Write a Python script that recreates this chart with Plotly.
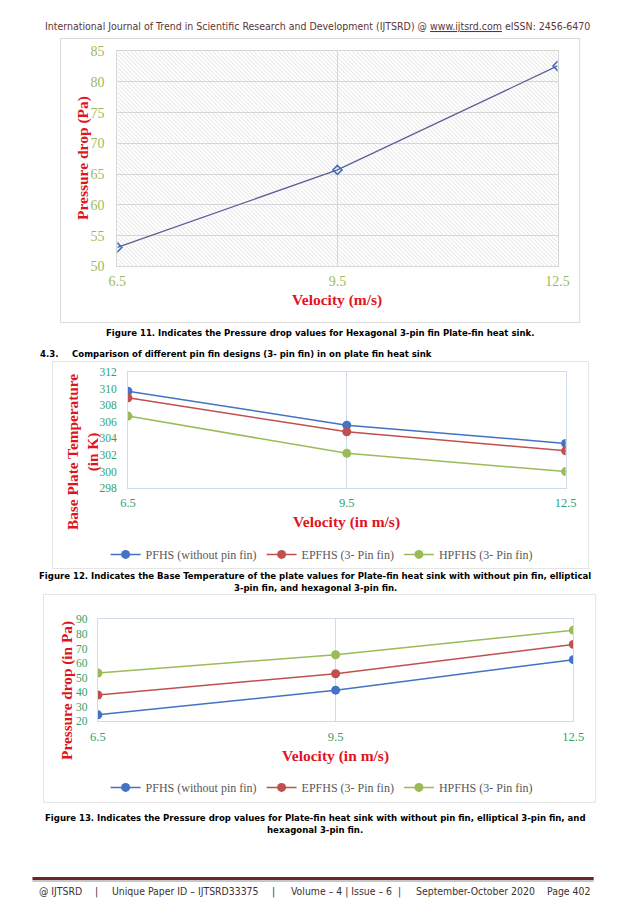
import base64
import plotly.graph_objects as go

# ---------------- data ----------------
velocity = [6.5, 9.5, 12.5]
velocity_labels = ["6.5", "9.5", "12.5"]

# Figure 11: hexagonal 3-pin fin pressure drop (Pa)
hex_pressure_drop = [53.1, 65.7, 82.6]

# Figure 12: base plate temperature (K)
temp_pfhs = [309.7, 305.6, 303.4]
temp_epfhs = [308.9, 304.8, 302.5]
temp_hpfhs = [306.7, 302.2, 300.0]

# Figure 13: pressure drop (Pa)
dp_pfhs = [24.3, 41.3, 62.3]
dp_epfhs = [38.0, 52.6, 72.8]
dp_hpfhs = [53.1, 65.7, 82.6]

series_names = ["PFHS (without pin fin)", "EPFHS (3- Pin fin)", "HPFHS (3- Pin fin)"]
series_colors = ["#4472c4", "#c0504d", "#9bbb59"]

# ---------------- page geometry helpers ----------------
W, H = 638, 902
SX, OX = 0.965, 8.6    # observed photo scaling / offset
SY, OY = 0.9835, 6.5


def fx(px):
    return ((px - OX) / SX) / W


def fy(py):
    return 1 - ((py - OY) / SY) / H


SERIF = "Liberation Serif, Times New Roman, serif"
NARROW = "Liberation Sans Narrow, Arial Narrow, DejaVu Sans Condensed, sans-serif"
RED = "#e0141e"
GREEN1 = "#9bbb59"
GREEN2 = "#2fa36b"

fig = go.Figure()

# ---- chart 1 ----
fig.add_trace(go.Scatter(
    x=velocity, y=hex_pressure_drop, mode="lines+markers",
    line=dict(color="#5e5f95", width=1.3),
    marker=dict(symbol="diamond-open", size=7, color="#3f6fb5", line=dict(width=1.6)),
    xaxis="x", yaxis="y", showlegend=False,
))

# ---- chart 2 ----
for name, vals, col in zip(series_names, [temp_pfhs, temp_epfhs, temp_hpfhs], series_colors):
    fig.add_trace(go.Scatter(
        x=velocity, y=vals, mode="lines+markers", name=name,
        line=dict(color=col, width=1.5),
        marker=dict(symbol="circle", size=9, color=col),
        xaxis="x2", yaxis="y2", legend="legend",
    ))

# ---- chart 3 ----
for name, vals, col in zip(series_names, [dp_pfhs, dp_epfhs, dp_hpfhs], series_colors):
    fig.add_trace(go.Scatter(
        x=velocity, y=vals, mode="lines+markers", name=name,
        line=dict(color=col, width=1.5),
        marker=dict(symbol="circle", size=9, color=col),
        xaxis="x3", yaxis="y3", legend="legend2",
    ))

# hatch pattern background for chart 1
svg = (
    "<svg xmlns='http://www.w3.org/2000/svg' width='455' height='220'>"
    "<defs><pattern id='p' width='3' height='3' patternUnits='userSpaceOnUse' "
    "patternTransform='rotate(-45)'>"
    "<line x1='0' y1='0' x2='0' y2='3' stroke='#d2d2d2' stroke-width='1.0'/>"
    "</pattern></defs>"
    "<rect width='100%' height='100%' fill='#ffffff'/>"
    "<rect width='100%' height='100%' fill='url(#p)'/></svg>"
)
hatch_src = "data:image/svg+xml;base64," + base64.b64encode(svg.encode()).decode()


def xax(domain, anchor, tickcolor, size, grid, ticklen):
    return dict(
        domain=domain, anchor=anchor, range=[6.5, 12.5], tickmode="array",
        tickvals=velocity, ticktext=velocity_labels,
        tickfont=dict(family=SERIF, size=size, color=tickcolor),
        showgrid=True, gridcolor=grid, gridwidth=1,
        showline=True, linecolor=grid, mirror=True, zeroline=False,
        ticks="outside", ticklen=ticklen, tickcolor="rgba(0,0,0,0)", fixedrange=True,
    )


def yax(domain, anchor, rng, dtick, tickcolor, size, grid, showgrid, ticklen):
    return dict(
        domain=domain, anchor=anchor, range=rng, dtick=dtick, tick0=rng[0],
        tickfont=dict(family=SERIF, size=size, color=tickcolor),
        showgrid=showgrid, gridcolor=grid, gridwidth=1,
        showline=True, linecolor=grid, mirror=True, zeroline=False,
        ticks="outside", ticklen=ticklen, tickcolor="rgba(0,0,0,0)", fixedrange=True,
    )


layout = dict(
    width=W, height=H, margin=dict(l=0, r=0, t=0, b=0),
    paper_bgcolor="white", plot_bgcolor="rgba(0,0,0,0)",
    xaxis=xax([fx(116.7), fx(556)], "y", GREEN1, 14, "#d6d6d6", 2),
    yaxis=yax([fy(266), fy(50.7)], "x", [50, 85], 5, GREEN1, 14, "#d6d6d6", True, 9),
    xaxis2=xax([fx(127.3), fx(564)], "y2", GREEN2, 12.5, "#cfdbe9", 3),
    yaxis2=yax([fy(487.7), fy(371.7)], "x2", [298, 312], 2, GREEN2, 11.5, "#cfdbe9", False, 8),
    xaxis3=xax([fx(97.3), fx(571.7)], "y3", GREEN2, 12.5, "#cfdbe9", 4),
    yaxis3=yax([fy(720.7), fy(619)], "x3", [20, 90], 10, GREEN2, 11.5, "#cfdbe9", False, 7),
    legend=dict(orientation="h", x=fx(321), xanchor="center", y=fy(554), yanchor="middle",
                font=dict(family=SERIF, size=12, color="#595959"),
                bgcolor="rgba(0,0,0,0)", itemwidth=30, tracegroupgap=0),
    legend2=dict(orientation="h", x=fx(321), xanchor="center", y=fy(787), yanchor="middle",
                 font=dict(family=SERIF, size=12, color="#595959"),
                 bgcolor="rgba(0,0,0,0)", itemwidth=30, tracegroupgap=0),
    images=[dict(source=hatch_src, xref="x domain", yref="y domain", x=0, y=1,
                 sizex=1, sizey=1, xanchor="left", yanchor="top",
                 sizing="stretch", layer="below")],
)
fig.update_layout(**layout)

# chart frames and footer rule
shapes = [
    dict(type="rect", xref="paper", yref="paper", x0=fx(60), x1=fx(578), y0=fy(322), y1=fy(38),
         line=dict(color="#d9d9d9", width=1), fillcolor="rgba(0,0,0,0)", layer="below"),
    dict(type="rect", xref="paper", yref="paper", x0=fx(52), x1=fx(587), y0=fy(568), y1=fy(361),
         line=dict(color="#e3e3e3", width=1), fillcolor="rgba(0,0,0,0)", layer="below"),
    dict(type="rect", xref="paper", yref="paper", x0=fx(43), x1=fx(594), y0=fy(802), y1=fy(594),
         line=dict(color="#e3e3e3", width=1), fillcolor="rgba(0,0,0,0)", layer="below"),
    dict(type="line", xref="paper", yref="paper", x0=fx(32), x1=fx(592), y0=fy(880.5), y1=fy(880.5),
         line=dict(color="#b5b5b5", width=1.5)),
    dict(type="line", xref="paper", yref="paper", x0=fx(32), x1=fx(592), y0=fy(878), y1=fy(878),
         line=dict(color="#6e2424", width=3)),
]
fig.update_layout(shapes=shapes)


def ann(text, x, y, size, color="black", family=NARROW, xanchor="center", angle=0, bold=False):
    if bold:
        text = "<b>" + text + "</b>"
    fig.add_annotation(text=text, x=fx(x), y=fy(y), xref="paper", yref="paper",
                       xanchor=xanchor, yanchor="middle", showarrow=False,
                       textangle=angle, font=dict(family=family, size=size, color=color))


# header
ann("International Journal of Trend in Scientific Research and Development (IJTSRD) @ "
    "<u>www.ijtsrd.com</u> eISSN: 2456-6470", 316, 26, 10.5, color="#5a3636")

# axis titles
ann("Pressure drop (Pa)", 83, 158, 15.5, RED, SERIF, angle=-90, bold=True)
ann("Velocity (m/s)", 336, 300, 15.5, RED, SERIF, bold=True)
ann("Base Plate Temperature<br>(in K)", 83, 452, 15.3, RED, SERIF, angle=-90, bold=True)
ann("Velocity (in m/s)", 345, 522, 15.5, RED, SERIF, bold=True)
ann("Pressure drop (in Pa)", 67, 690, 15.3, RED, SERIF, angle=-90, bold=True)
ann("Velocity (in m/s)", 334, 756, 15.5, RED, SERIF, bold=True)

# captions
CAP = 9.5
ann("Figure 11. Indicates the Pressure drop values for Hexagonal 3-pin fin Plate-fin heat sink.",
    319, 332, CAP, bold=True)
ann("4.3.", 38, 353, CAP, xanchor="left", bold=True)
ann("Comparison of different pin fin designs (3- pin fin) in on plate fin heat sink",
    69, 353, CAP, xanchor="left", bold=True)
ann("Figure 12. Indicates the Base Temperature of the plate values for Plate-fin heat sink with "
    "without pin fin, elliptical", 314, 575, CAP, bold=True)
ann("3-pin fin, and hexagonal 3-pin fin.", 314, 587, CAP, bold=True)
ann("Figure 13. Indicates the Pressure drop values for Plate-fin heat sink with without pin fin, "
    "elliptical 3-pin fin, and", 314, 817, CAP, bold=True)
ann("hexagonal 3-pin fin.", 314, 829, CAP, bold=True)

# footer
FC = "#3d3030"
FS = 10.4
ann("@ IJTSRD", 37, 891, FS, FC, xanchor="left")
ann("|", 96, 891, FS, FC)
ann("Unique Paper ID – IJTSRD33375", 109, 891, FS, FC, xanchor="left")
ann("|", 273, 891, FS, FC)
ann("Volume – 4 | Issue – 6", 288, 891, FS, FC, xanchor="left")
ann("|", 398, 891, FS, FC)
ann("September-October 2020", 413, 891, FS, FC, xanchor="left")
ann("Page 402", 590, 891, FS, FC, xanchor="right")

fig.write_html(
    "out.html",
    config={"displayModeBar": False},
    post_script="document.body.style.margin='0';document.body.style.overflow='hidden';",
)
